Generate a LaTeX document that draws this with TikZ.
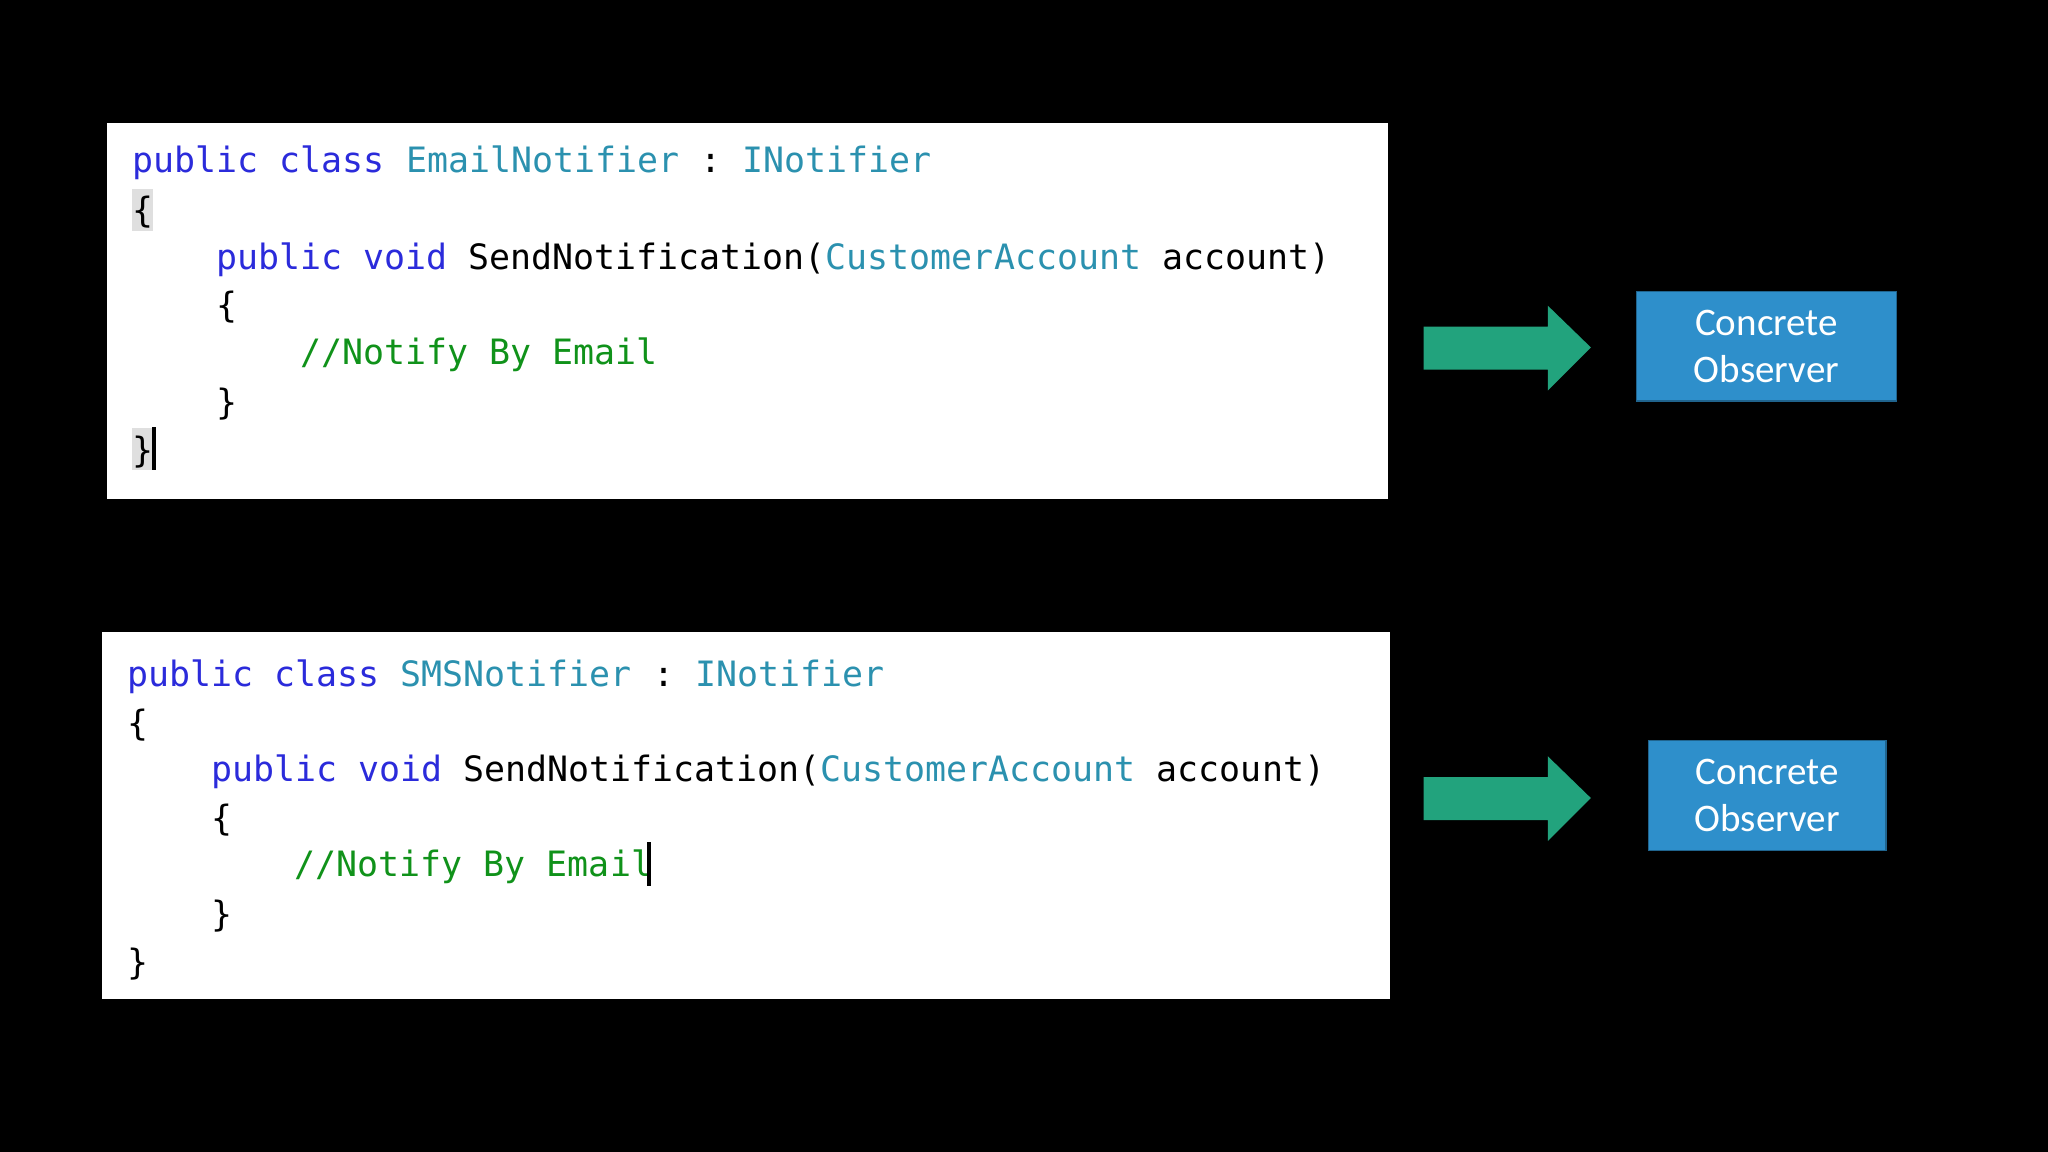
\documentclass[tikz,border=0pt]{standalone}
\usepackage{fontspec}
\setmainfont{Carlito}
\setmonofont{DejaVu Sans Mono}
\definecolor{kw}{HTML}{2B2BDB}
\definecolor{ty}{HTML}{2B91AF}
\definecolor{cm}{HTML}{10921A}
\definecolor{arr}{HTML}{22A37D}
\definecolor{obs}{HTML}{2E8FCB}
\begin{document}
\begin{tikzpicture}[x=0.01cm,y=-0.01cm,
  code/.style={anchor=west,inner sep=0pt,yshift=-0.02cm,font=\ttfamily\fontsize{7.6}{9}\selectfont},
  codebox/.style={fill=white,draw=none},
  observer/.style={fill=obs,draw=obs!70!black,line width=0.3pt,text=white,align=center,font=\fontsize{8.5}{10.2}\selectfont},
  arrowshape/.style={fill=arr,draw=none}]
\fill[black] (0,0) rectangle (1568,882);
\useasboundingbox (0,0) rectangle (1568,882);
% box 1
\fill[codebox] (82,94) rectangle (1063,382);
\fill[gray!25] (101,145) rectangle (117,177);
\fill[gray!25] (101,328) rectangle (117,360);
\node[code] (a1) at (101,123) {\color{kw}public class \color{ty}EmailNotifier \color{black}: \color{ty}INotifier};
\node[code] (a2) at (101,160) {\{};
\node[code] (a3) at (165,197) {\color{kw}public void \color{black}SendNotification(\color{ty}CustomerAccount \color{black}account)};
\node[code] (a4) at (165,233) {\{};
\node[code] (a5) at (229,270) {\color{cm}//Notify By Email};
\node[code] (a6) at (165,307) {\}};
\node[code] (a7) at (101,344) {\}};
\draw[black,line width=0.8pt] (118,327) -- (118,360);
% box 2
\fill[codebox] (78,484) rectangle (1064,765);
\node[code] (b1) at (97,516) {\color{kw}public class \color{ty}SMSNotifier \color{black}: \color{ty}INotifier};
\node[code] (b2) at (97,553) {\{};
\node[code] (b3) at (161,589) {\color{kw}public void \color{black}SendNotification(\color{ty}CustomerAccount \color{black}account)};
\node[code] (b4) at (161,626) {\{};
\node[code] (b5) at (225,662) {\color{cm}//Notify By Email};
\node[code] (b6) at (161,699) {\}};
\node[code] (b7) at (97,736) {\}};
\draw[black,line width=0.8pt] (497,645) -- (497,678);
% arrows
\fill[arrowshape] (1090,250) -- (1185,250) -- (1185,234) -- (1218,266) -- (1185,299) -- (1185,283) -- (1090,283) -- cycle;
\fill[arrowshape] (1090,595) -- (1185,595) -- (1185,579) -- (1218,611) -- (1185,644) -- (1185,628) -- (1090,628) -- cycle;
% observers
\node[observer,minimum width=1.99cm,minimum height=0.84cm] (o1) at (1352.5,265) {Concrete\\Observer};
\node[observer,minimum width=1.82cm,minimum height=0.84cm] (o2) at (1353,609) {Concrete\\Observer};
\end{tikzpicture}
\end{document}
